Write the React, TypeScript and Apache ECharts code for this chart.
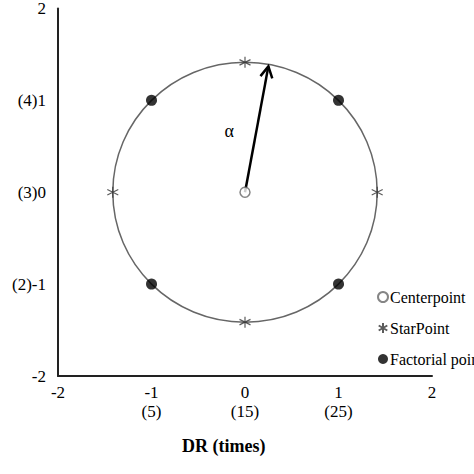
import React, { useEffect, useRef } from "react";
import * as echarts from "echarts";

const xTicks = [-2, -1, 0, 1, 2];
const xTickLabels = ["-2", "-1\n(5)", "0\n(15)", "1\n(25)", "2"];
const yTicks = [-2, -1, 0, 1, 2];
const yTickLabels = ["-2", "(2)-1", "(3)0", "(4)1", "2"];

const alpha = 1.414;
const centerPoints = [[0, 0]];
const starPoints = [
  [0, 1.414],
  [0, -1.414],
  [-1.414, 0],
  [1.414, 0],
];
const factorialPoints = [
  [-1, 1],
  [1, 1],
  [-1, -1],
  [1, -1],
];
const arrowSegment = [[0, 0, 0.25, 1.37]];
const alphaLabel = [[-0.17, 0.67]];

const SERIF = "'Liberation Serif', 'Times New Roman', serif";
const STAR_PATH = "path://M5 0 L5 10 M0.7 2.5 L9.3 7.5 M0.7 7.5 L9.3 2.5";

export default function App() {
  const ref = useRef<HTMLDivElement>(null);
  useEffect(() => {
    if (!ref.current) return;
    const chart = echarts.init(ref.current, null, { renderer: "svg" });
    chart.setOption({
      animation: false,
      backgroundColor: "#fff",
      grid: { left: 58, right: 42, top: 8, bottom: 98 },
      xAxis: {
        type: "value",
        min: -2,
        max: 2,
        interval: 1,
        axisLine: { show: true, onZero: false, lineStyle: { color: "#222", width: 2 } },
        axisTick: { show: false },
        splitLine: { show: false },
        axisLabel: {
          fontFamily: SERIF,
          fontSize: 17,
          color: "#000",
          lineHeight: 19,
          margin: 7,
          formatter: (v: number) => xTickLabels[xTicks.indexOf(v)] ?? "",
        },
      },
      yAxis: {
        type: "value",
        min: -2,
        max: 2,
        interval: 1,
        axisLine: { show: true, onZero: false, lineStyle: { color: "#222", width: 2 } },
        axisTick: { show: false },
        splitLine: { show: false },
        axisLabel: {
          fontFamily: SERIF,
          fontSize: 17,
          color: "#000",
          margin: 12,
          formatter: (v: number) => yTickLabels[yTicks.indexOf(v)] ?? "",
        },
      },
      legend: {
        orient: "vertical",
        left: 372,
        top: 284,
        itemGap: 15,
        itemWidth: 10,
        itemHeight: 10,
        data: ["Centerpoint", "StarPoint", "Factorial point"],
        textStyle: { fontFamily: SERIF, fontSize: 16, color: "#000", padding: [0, 0, 0, -3] },
      },
      graphic: [
        {
          type: "text",
          left: 182,
          top: 437,
          style: {
            text: "DR (times)",
            font: `bold 18px ${SERIF}`,
            fill: "#000",
          },
        },
      ],
      series: [
        {
          type: "custom",
          name: "circle",
          data: centerPoints,
          silent: true,
          z: 1,
          renderItem: (params: any, api: any) => {
            const c = api.coord([api.value(0), api.value(1)]);
            const s = api.size([alpha, alpha]);
            return {
              type: "ellipse",
              shape: { cx: c[0], cy: c[1], rx: s[0], ry: s[1] },
              style: { fill: "none", stroke: "#666", lineWidth: 1.5 },
            };
          },
        },
        {
          type: "custom",
          name: "arrow",
          data: arrowSegment,
          silent: true,
          z: 2,
          renderItem: (params: any, api: any) => {
            const p0 = api.coord([api.value(0), api.value(1)]);
            const p1 = api.coord([api.value(2), api.value(3)]);
            const dx = p1[0] - p0[0];
            const dy = p1[1] - p0[1];
            const len = Math.sqrt(dx * dx + dy * dy);
            const ux = dx / len;
            const uy = dy / len;
            const hl = 11;
            const hw = 6;
            const bx = p1[0] - ux * hl;
            const by = p1[1] - uy * hl;
            return {
              type: "group",
              children: [
                {
                  type: "line",
                  shape: { x1: p0[0], y1: p0[1], x2: p1[0], y2: p1[1] },
                  style: { stroke: "#000", lineWidth: 2.5 },
                },
                {
                  type: "polyline",
                  shape: {
                    points: [
                      [bx - uy * hw, by + ux * hw],
                      [p1[0], p1[1]],
                      [bx + uy * hw, by - ux * hw],
                    ],
                  },
                  style: { stroke: "#000", lineWidth: 2.5, fill: "none" },
                },
              ],
            };
          },
        },
        {
          type: "custom",
          name: "alphaText",
          data: alphaLabel,
          silent: true,
          z: 2,
          renderItem: (params: any, api: any) => {
            const p = api.coord([api.value(0), api.value(1)]);
            return {
              type: "text",
              x: p[0],
              y: p[1],
              style: {
                text: "α",
                font: `18px ${SERIF}`,
                fill: "#000",
                align: "center",
                verticalAlign: "middle",
              },
            };
          },
        },
        {
          type: "scatter",
          name: "Factorial point",
          data: factorialPoints,
          symbol: "circle",
          symbolSize: 11,
          itemStyle: { color: "#000" },
          z: 3,
        },
        {
          type: "scatter",
          name: "StarPoint",
          data: starPoints,
          symbol: STAR_PATH,
          symbolSize: 11,
          itemStyle: { color: "#333", borderColor: "#333", borderWidth: 1.2 },
          z: 3,
        },
        {
          type: "scatter",
          name: "Centerpoint",
          data: centerPoints,
          symbol: "circle",
          symbolSize: 10,
          itemStyle: { color: "#fff", borderColor: "#666", borderWidth: 1.5 },
          z: 4,
        },
      ],
    });
    return () => chart.dispose();
  }, []);
  return (
    <div
      ref={ref}
      style={{ position: "fixed", left: 0, top: 0, width: 474, height: 474 }}
    />
  );
}
